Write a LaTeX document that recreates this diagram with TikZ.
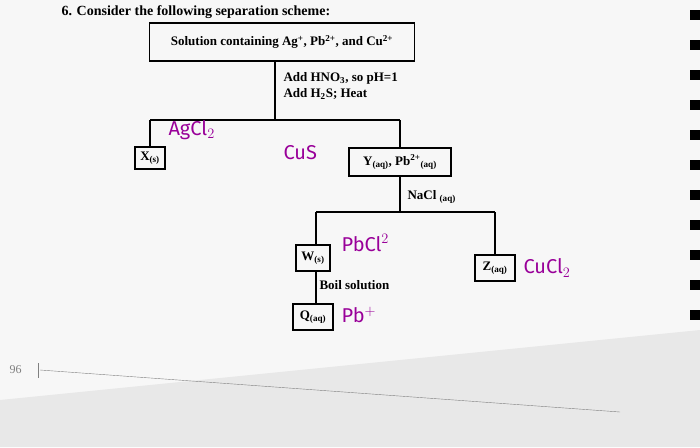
\documentclass[tikz,border=0pt]{standalone}
\usepackage{fontspec}
\setmainfont{Liberation Serif}
\newfontfamily\hand{Fira Sans}
\newcommand\sbs[1]{\textsubscript{#1}}
\newcommand\sps[1]{\textsuperscript{#1}}
\begin{document}
\begin{tikzpicture}[x=1pt,y=-1pt,
  bx/.style={draw,line width=1.3pt,inner sep=2pt,font=\bfseries\fontsize{13}{15}\selectfont},
  ln/.style={line width=2pt},
  lab/.style={font=\bfseries\fontsize{13}{16}\selectfont,anchor=west,align=left},
  hw/.style={text=violet!80!magenta,font=\hand\fontsize{20}{22}\selectfont,anchor=west}]
\useasboundingbox[fill=gray!6] (0,0) rectangle (700,447);
\fill[gray!18] (0,400) -- (700,330) -- (700,447) -- (0,447) -- cycle;
\node[anchor=west,font=\bfseries\fontsize{14}{16}\selectfont] (t) at (58,12) {6. Consider the following separation scheme:};
\node[bx,minimum width=265pt,minimum height=38pt] (s) at (282,42) {Solution containing Ag\sps{+}, Pb\sps{2+}, and Cu\sps{2+}};
\coordinate (s1) at (275,61);
\coordinate (h1) at (275,120);
\coordinate (hl) at (150,120);
\coordinate (hr) at (400,120);
\node[lab] (a) at (280,86) {Add HNO\sbs{3}, so pH=1\\Add H\sbs{2}S; Heat};
\node[bx,minimum width=30pt,minimum height=22pt] (x) at (150,158) {X\sbs{(s)}};
\node[bx,minimum width=102pt,minimum height=28pt] (y) at (400,162) {Y\sbs{(aq)}, Pb\sps{2+}\sbs{(aq)}};
\draw[ln] (s1) -- (h1);
\draw[ln] (hl) -- (hr);
\draw[ln] (hl) -- (x.north);
\draw[ln] (hr) -- (y.north);
\node[hw] (ag) at (165,130) {AgCl$_2$};
\node[hw] (cu) at (280,153) {CuS};
\node[lab] (n) at (404,197) {NaCl \sbs{(aq)}};
\coordinate (h2) at (400,212);
\coordinate (wl) at (316,212);
\coordinate (zr) at (495,212);
\node[bx,minimum width=34pt,minimum height=26pt] (w) at (313,258) {W\sbs{(s)}};
\node[bx,minimum width=40pt,minimum height=26pt] (z) at (495,268) {Z\sbs{(aq)}};
\draw[ln] (y.south) -- (h2);
\draw[ln] (wl) -- (zr);
\draw[ln] (wl) -- (wl|-w.north);
\draw[ln] (zr) -- (z.north);
\node[hw] (pb) at (338,243) {PbCl$^{2}$};
\node[hw] (cc) at (520,268) {CuCl$_2$};
\node[bx,minimum width=40pt,minimum height=26pt] (q) at (313,317) {Q\sbs{(aq)}};
\draw[ln] (wl|-w.south) -- (wl|-q.north);
\node[lab] (b) at (316,285) {Boil solution};
\node[hw] (pp) at (338,315) {Pb$^{+}$};
\node[anchor=west,text=gray,font=\large] (nn) at (6,370) {96};
\draw[gray] (38,363) -- (38,378);
\draw[gray] (40,370) -- (620,412);
\foreach \yy in {10,40,70,100,130,160,190,220,250,280,310}
  \fill[black] (690,\yy) rectangle (700,\yy+10);
\end{tikzpicture}
\end{document}
